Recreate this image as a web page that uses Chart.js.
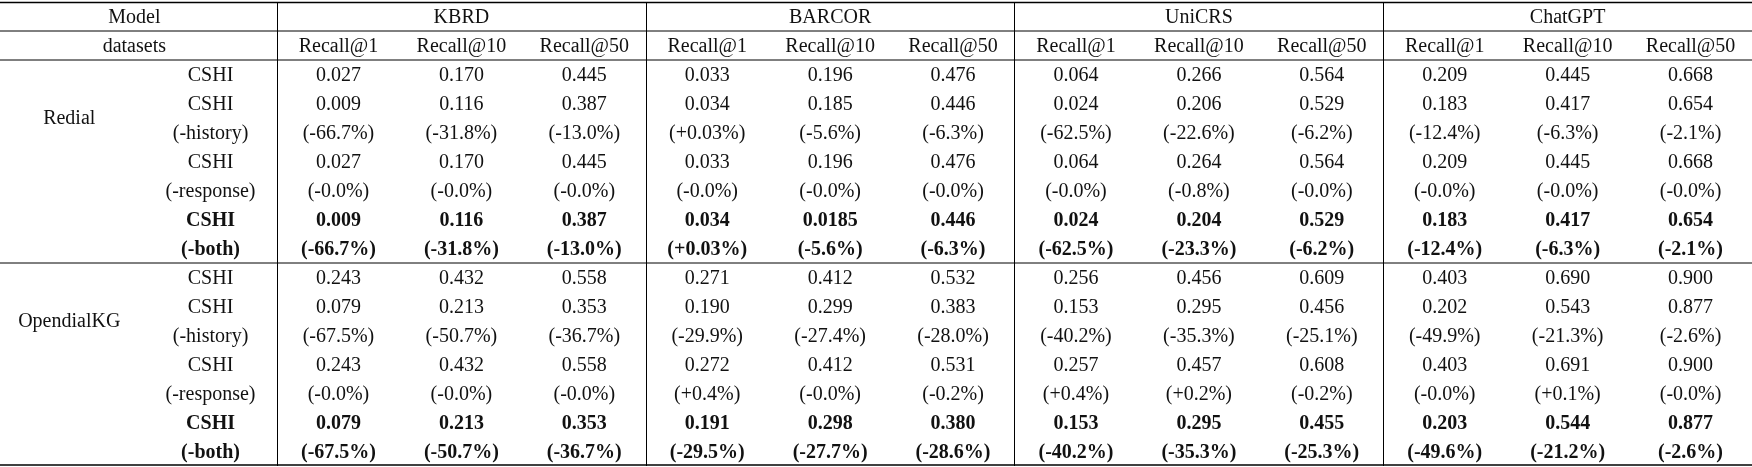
<!DOCTYPE html>
<html><head><meta charset="utf-8">
<script src="https://cdn.jsdelivr.net/npm/chart.js@4/dist/chart.umd.min.js"></script>
<style>html,body{margin:0;padding:0;background:#fff}#wrap{width:1752px;height:467px}</style>
</head><body><div id="wrap"><canvas id="c"></canvas></div>
<script>
const models = ['KBRD','BARCOR','UniCRS','ChatGPT'];
const metrics = ['Recall@1','Recall@10','Recall@50'];
const datasetNames = ['Redial','OpendialKG'];
const variantLabels = ['CSHI','CSHI','(-history)','CSHI','(-response)','CSHI','(-both)'];
const boldRows = [5,6];

const redial = [
  ['0.027','0.170','0.445','0.033','0.196','0.476','0.064','0.266','0.564','0.209','0.445','0.668'],
  ['0.009','0.116','0.387','0.034','0.185','0.446','0.024','0.206','0.529','0.183','0.417','0.654'],
  ['(-66.7%)','(-31.8%)','(-13.0%)','(+0.03%)','(-5.6%)','(-6.3%)','(-62.5%)','(-22.6%)','(-6.2%)','(-12.4%)','(-6.3%)','(-2.1%)'],
  ['0.027','0.170','0.445','0.033','0.196','0.476','0.064','0.264','0.564','0.209','0.445','0.668'],
  ['(-0.0%)','(-0.0%)','(-0.0%)','(-0.0%)','(-0.0%)','(-0.0%)','(-0.0%)','(-0.8%)','(-0.0%)','(-0.0%)','(-0.0%)','(-0.0%)'],
  ['0.009','0.116','0.387','0.034','0.0185','0.446','0.024','0.204','0.529','0.183','0.417','0.654'],
  ['(-66.7%)','(-31.8%)','(-13.0%)','(+0.03%)','(-5.6%)','(-6.3%)','(-62.5%)','(-23.3%)','(-6.2%)','(-12.4%)','(-6.3%)','(-2.1%)']
];
const opendialkg = [
  ['0.243','0.432','0.558','0.271','0.412','0.532','0.256','0.456','0.609','0.403','0.690','0.900'],
  ['0.079','0.213','0.353','0.190','0.299','0.383','0.153','0.295','0.456','0.202','0.543','0.877'],
  ['(-67.5%)','(-50.7%)','(-36.7%)','(-29.9%)','(-27.4%)','(-28.0%)','(-40.2%)','(-35.3%)','(-25.1%)','(-49.9%)','(-21.3%)','(-2.6%)'],
  ['0.243','0.432','0.558','0.272','0.412','0.531','0.257','0.457','0.608','0.403','0.691','0.900'],
  ['(-0.0%)','(-0.0%)','(-0.0%)','(+0.4%)','(-0.0%)','(-0.2%)','(+0.4%)','(+0.2%)','(-0.2%)','(-0.0%)','(+0.1%)','(-0.0%)'],
  ['0.079','0.213','0.353','0.191','0.298','0.380','0.153','0.295','0.455','0.203','0.544','0.877'],
  ['(-67.5%)','(-50.7%)','(-36.7%)','(-29.5%)','(-27.7%)','(-28.6%)','(-40.2%)','(-35.3%)','(-25.3%)','(-49.6%)','(-21.2%)','(-2.6%)']
];

const FONT = '"Liberation Serif","DejaVu Serif",serif';
const FS = 20;
const colKeys = [];
models.forEach(m => metrics.forEach(r => colKeys.push(m + ' ' + r)));
const rowKeys = ['Model','datasets'];
datasetNames.forEach(d => variantLabels.forEach((v, i) => rowKeys.push(d + ' ' + i)));

const groups = [redial, opendialkg];
const points = [];
groups.forEach((g, gi) => g.forEach((row, ri) => row.forEach((txt, ci) => {
  points.push({x: colKeys[ci], y: datasetNames[gi] + ' ' + ri, text: txt, bold: boldRows.includes(ri)});
})));

const tablePlugin = {
  id: 'table',
  afterDatasetsDraw(chart) {
    const ctx = chart.ctx, xs = chart.scales.x, ys = chart.scales.y;
    const area = chart.chartArea;
    const W = chart.width;
    const stepY = ys.getPixelForValue(1) - ys.getPixelForValue(0);
    const stepX = xs.getPixelForValue(1) - xs.getPixelForValue(0);
    const rowY = i => ys.getPixelForValue(i);
    const bY = i => rowY(i) - stepY / 2;
    const bX = i => xs.getPixelForValue(i) - stepX / 2;
    ctx.save();
    ctx.fillStyle = '#111';
    ctx.textBaseline = 'middle';
    ctx.textAlign = 'center';
    // cells
    chart.getDatasetMeta(0).data.forEach((el, i) => {
      const p = points[i];
      ctx.font = (p.bold ? 'bold ' : '') + FS + 'px ' + FONT;
      ctx.fillText(p.text, el.x, el.y + 1);
    });
    // headers
    ctx.font = FS + 'px ' + FONT;
    const labelCenter = area.left * 0.485;
    ctx.fillText('Model', labelCenter, rowY(0) + 1);
    ctx.fillText('datasets', labelCenter, rowY(1) + 1);
    models.forEach((m, mi) => {
      const cx = (xs.getPixelForValue(mi * 3) + xs.getPixelForValue(mi * 3 + 2)) / 2;
      ctx.fillText(m, cx, rowY(0) + 1);
    });
    colKeys.forEach((k, ci) => ctx.fillText(metrics[ci % 3], xs.getPixelForValue(ci), rowY(1) + 1));
    // row labels
    datasetNames.forEach((d, gi) => {
      const base = 2 + gi * variantLabels.length;
      ctx.font = FS + 'px ' + FONT;
      ctx.fillText(d, area.left * 0.25, (rowY(base + 1) + rowY(base + 2)) / 2 + 1);
      variantLabels.forEach((v, vi) => {
        ctx.font = (boldRows.includes(vi) ? 'bold ' : '') + FS + 'px ' + FONT;
        ctx.fillText(v, area.left * 0.76, rowY(base + vi) + 1);
      });
    });
    // rules
    ctx.strokeStyle = '#000';
    const hline = (y, w) => { ctx.lineWidth = w; ctx.beginPath(); ctx.moveTo(0, y); ctx.lineTo(W, y); ctx.stroke(); };
    hline(bY(0) + 0.5, 1.6);
    hline(bY(1), 1);
    hline(bY(2), 1);
    hline(bY(2 + variantLabels.length), 1);
    hline(bY(rowKeys.length - 1) + stepY - 1, 1.6);
    ctx.lineWidth = 1;
    for (let mi = 0; mi < models.length; mi++) {
      const x = Math.round(bX(mi * 3)) + 0.5;
      ctx.beginPath(); ctx.moveTo(x, bY(0)); ctx.lineTo(x, bY(rowKeys.length - 1) + stepY); ctx.stroke();
    }
    ctx.restore();
  }
};

new Chart(document.getElementById('c'), {
  type: 'line',
  data: { datasets: [{ data: points, showLine: false, pointRadius: 0, pointHoverRadius: 0 }] },
  options: {
    responsive: true, maintainAspectRatio: false, animation: false,
    layout: { padding: { left: 277, top: 2, bottom: 1, right: 0 } },
    plugins: { legend: { display: false }, tooltip: { enabled: false } },
    events: [],
    scales: {
      x: { type: 'category', labels: colKeys, offset: true, display: false },
      y: { type: 'category', labels: rowKeys, offset: true, display: false }
    }
  },
  plugins: [tablePlugin]
});
</script></body></html>
